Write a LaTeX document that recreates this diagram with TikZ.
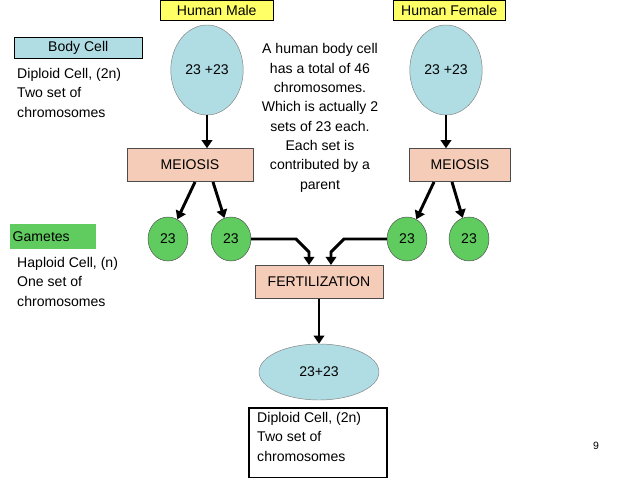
\documentclass[tikz,border=0pt]{standalone}
\usepackage{fontspec}
\setmainfont{Liberation Sans}
\usetikzlibrary{arrows.meta,shapes.geometric}
\definecolor{cell_blue}{RGB}{176,221,228}
\definecolor{gam_green}{RGB}{96,204,96}
\definecolor{mei_pink}{RGB}{244,204,184}
\definecolor{lab_yellow}{RGB}{255,255,102}
\newcommand{\diagfont}{\fontsize{12pt}{16.5pt}\selectfont}
\tikzset{
  px/.style={x=0.03cm,y=-0.03cm},
  lab/.style={draw=black,font=\diagfont,inner sep=1pt,anchor=north west},
  cell/.style={ellipse,draw=gray,fill=cell_blue,font=\diagfont},
  gamete/.style={ellipse,draw=black!70,fill=gam_green,font=\diagfont,minimum width=40*0.03cm,minimum height=44*0.03cm,inner sep=0pt},
  stage/.style={draw=black!70,fill=mei_pink,font=\diagfont,minimum height=33*0.03cm},
  txt/.style={font=\diagfont,align=left,anchor=north west,inner sep=0pt},
  big/.style={line width=2.5pt,-{Triangle[length=7pt,width=9pt]}}
}
\begin{document}
\begin{tikzpicture}[px]
  \useasboundingbox (0,0) rectangle (638,478);
  % parents
  \node[lab,fill=lab_yellow,minimum width=113*0.03cm,minimum height=20*0.03cm] (male) at (160,0) {Human Male};
  \node[lab,fill=lab_yellow,minimum width=112*0.03cm,minimum height=20*0.03cm] (female) at (393,0) {Human Female};
  \node[cell,minimum width=64*0.03cm,minimum height=90*0.03cm] (mcell) at (207,70) {23 +23};
  \node[cell,minimum width=64*0.03cm,minimum height=90*0.03cm] (fcell) at (446,70) {23 +23};
  % left legend
  \node[lab,fill=cell_blue,minimum width=128*0.03cm,minimum height=21*0.03cm] (body) at (14,37) {Body Cell};
  \node[txt] (diploid) at (17,68) {Diploid Cell, (2n)\\Two set of\\chromosomes};
  \node[lab,fill=gam_green,draw=gam_green,minimum width=85*0.03cm,minimum height=24*0.03cm,align=left,text width=80*0.03cm] (gam) at (10,224) {Gametes};
  \node[txt] (haploid) at (17,257) {Haploid Cell, (n)\\One set of\\chromosomes};
  % note
  \node[font=\diagfont,align=center,inner sep=0pt] (note) at (320,118) {A human body cell\\has a total of 46\\chromosomes.\\Which is actually 2\\sets of 23 each.\\Each set is\\contributed by a\\parent};
  % meiosis
  \node[stage,minimum width=126*0.03cm] (mmei) at (190,165) {MEIOSIS};
  \node[stage,minimum width=101*0.03cm] (fmei) at (460,165) {MEIOSIS};
  \node[gamete] (g1) at (168,239) {23};
  \node[gamete] (g2) at (231,239) {23};
  \node[gamete] (g3) at (407,239) {23};
  \node[gamete] (g4) at (469,239) {23};
  \node[stage,minimum width=128*0.03cm] (fert) at (319,282) {FERTILIZATION};
  \node[cell,minimum width=120*0.03cm,minimum height=56*0.03cm] (zyg) at (319,372) {23+23};
  \node[draw=black,line width=2.5pt,minimum width=138*0.03cm,minimum height=70*0.03cm] (out) at (318,443) {};
  \node[txt] (outtxt) at (257,412) {Diploid Cell, (2n)\\Two set of\\chromosomes};
  \node[font=\small] (page) at (596,446) {9};
  % arrows
  \draw[big] (mcell) -- (mmei.north -| mcell);
  \draw[big] (fcell) -- (fmei.north -| fcell);
  \draw[big] (195,182) -- (g1);
  \draw[big] (213,182) -- (g2);
  \draw[big] (434,182) -- (g3);
  \draw[big] (452,182) -- (g4);
  \draw[big] (g2) -- (296,239) -- (309,252) -- (309,265);
  \draw[big] (g3) -- (344,239) -- (331,252) -- (331,265);
  \draw[big] (fert) -- (zyg);
\end{tikzpicture}
\end{document}
